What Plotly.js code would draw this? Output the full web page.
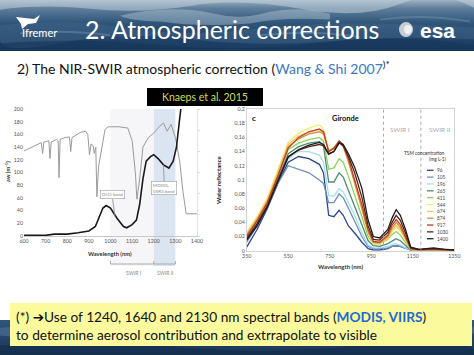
<!DOCTYPE html>
<html>
<head>
<meta charset="utf-8">
<script src="https://cdn.plot.ly/plotly-3.0.1.min.js"></script>
<style>html,body{margin:0;padding:0;background:#fff;}#chart{width:474px;height:355px;}</style>
</head>
<body>
<div id="chart"></div>
<script>
// ---------- Left panel (Knaeps et al. 2015): absorption aw and transmittance ----------
const leftGrayWl = [600, 640, 680, 686, 692, 715, 720, 726, 750, 758, 762, 767, 790, 810, 816, 822, 860, 885, 895, 903, 910, 920, 925, 932, 937, 945, 960, 975, 990, 1040, 1080, 1100, 1115, 1122, 1135, 1150, 1175, 1200, 1225, 1245, 1262, 1280, 1300, 1320, 1335, 1350, 1400];
const leftGrayVal = [134, 140, 147, 130, 148, 150, 122, 148, 152, 150, 92, 152, 155, 156, 133, 155, 163, 165, 160, 128, 145, 142, 130, 140, 62, 110, 140, 168, 172, 172, 170, 150, 100, 58, 90, 140, 155, 162, 172, 178, 165, 176, 155, 118, 70, 35, 35];
const leftAwWl = [600, 700, 740, 800, 850, 900, 930, 950, 965, 980, 1000, 1030, 1060, 1075, 1100, 1120, 1135, 1150, 1165, 1185, 1200, 1220, 1245, 1270, 1290, 1305, 1315, 1325, 1335];
const leftAwVal = [1, 1, 3, 3, 5, 8, 15, 30, 44, 48, 44, 28, 15, 13, 18, 25, 50, 90, 118, 125, 128, 122, 112, 107, 118, 140, 165, 195, 230];
const leftXTicks = [600, 700, 800, 900, 1000, 1100, 1200, 1300, 1400];
const swirGrey = [1000, 1200];
const swirBlue = [1200, 1300];

// ---------- Right panel (Gironde): water reflectance per TSM concentration ----------
const rightWl = [350, 400, 450, 500, 550, 600, 650, 700, 720, 745, 770, 795, 815, 840, 870, 905, 935, 960, 990, 1030, 1050, 1070, 1090, 1115, 1140, 1180, 1250, 1300, 1350];
const tsmLabels = ["96", "105", "196", "265", "411", "544", "674", "874", "917", "1030", "1400"];
const r96   = [.005,.030,.060,.095,.125,.133,.130,.122,.110,.050,.048,.057,.050,.035,.025,.012,.003,.001,.001,.003,.006,.007,.006,.003,.001,.000,.000,.000,.000];
const r105  = [.012,.035,.062,.095,.120,.115,.110,.100,.095,.068,.068,.080,.075,.060,.042,.020,.006,.003,.003,.004,.006,.007,.006,.003,.001,.000,.000,.000,.000];
const r196  = [.018,.040,.065,.100,.130,.140,.140,.135,.125,.078,.077,.088,.083,.068,.050,.025,.008,.004,.004,.006,.009,.010,.008,.004,.001,.000,.001,.000,.000];
const r265  = [.015,.038,.063,.100,.137,.147,.152,.154,.148,.097,.097,.110,.104,.085,.063,.035,.014,.007,.006,.010,.014,.017,.014,.007,.001,.001,.001,.000,.000];
const r411  = [.020,.042,.068,.105,.143,.152,.157,.160,.155,.115,.117,.130,.125,.105,.080,.048,.020,.010,.009,.016,.023,.027,.022,.012,.002,.001,.001,.001,.000];
const r544  = [.026,.048,.075,.113,.153,.166,.173,.178,.172,.142,.146,.155,.149,.127,.097,.060,.025,.010,.009,.017,.027,.033,.028,.015,.002,.001,.002,.001,.001];
const r674  = [.024,.046,.072,.110,.150,.162,.168,.171,.166,.141,.145,.154,.148,.127,.097,.061,.026,.011,.010,.018,.029,.036,.030,.016,.002,.001,.002,.001,.001];
const r874  = [.022,.044,.070,.107,.147,.158,.165,.168,.165,.140,.144,.153,.147,.126,.096,.060,.027,.012,.011,.020,.032,.040,.033,.018,.003,.001,.002,.001,.001];
const r917  = [.020,.042,.068,.105,.145,.160,.168,.172,.168,.140,.145,.155,.150,.130,.100,.065,.030,.013,.012,.022,.036,.044,.037,.020,.003,.001,.002,.001,.001];
const r1030 = [.017,.038,.064,.100,.133,.142,.147,.150,.148,.136,.140,.153,.148,.133,.110,.075,.035,.016,.015,.026,.040,.050,.043,.025,.004,.002,.003,.002,.001];
const r1400 = [.015,.035,.062,.098,.132,.143,.149,.153,.150,.137,.140,.152,.150,.137,.118,.088,.043,.020,.018,.030,.046,.058,.050,.030,.005,.002,.004,.002,.001];
const tsmSeries = [r96, r105, r196, r265, r411, r544, r674, r874, r917, r1030, r1400];
const tsmColors = ["#2d4590", "#6d8fc0", "#a6e0ee", "#4f8a74", "#8bd35a", "#f4ec6c", "#f5c662", "#e08b3b", "#b8402a", "#5a2212", "#1c1c24"];
const rightXTicks = [350, 550, 750, 950, 1150, 1350];
const swirEdges = [1009, 1189];

// ---------- helpers (pixel -> paper) ----------
const W = 474, H = 355;
const px = x => x / W;
const py = y => 1 - y / H;
const FONT = "Lato, 'Open Sans', sans-serif";

// ---------- ocean backgrounds ----------
function svgURI(s) { return "data:image/svg+xml;charset=utf-8," + encodeURIComponent(s); }
const headerSvg = `<svg xmlns="http://www.w3.org/2000/svg" width="474" height="52" viewBox="0 0 474 52">
<defs><linearGradient id="g" x1="0" y1="0" x2="0" y2="1">
<stop offset="0" stop-color="#9fb2c3"/><stop offset="0.16" stop-color="#5f7f9c"/>
<stop offset="0.45" stop-color="#2f5579"/><stop offset="0.8" stop-color="#1f4167"/><stop offset="1" stop-color="#1b3b61"/></linearGradient></defs>
<rect width="474" height="52" fill="url(#g)"/>
<path d="M0 10 Q40 4 90 9 T190 6 T300 9 T400 4 T474 8 L474 0 L0 0 Z" fill="#c9d6e0" opacity="0.5"/>
<path d="M120 16 Q170 4 215 14 Q240 21 270 12 Q300 6 330 14 L330 20 Q280 17 250 24 Q200 28 160 22 Q130 21 120 16 Z" fill="#d5e1ea" opacity="0.35"/>
<path d="M0 26 Q60 18 120 28 T250 30 T380 24 T474 28 L474 40 Q400 36 330 42 T190 40 T60 44 T0 40 Z" fill="#44698c" opacity="0.45"/>
<path d="M0 44 Q80 38 160 46 T320 44 T474 46 L474 52 L0 52 Z" fill="#163558" opacity="0.6"/>
<path d="M20 34 Q70 30 110 36 M260 36 Q310 30 360 38 M380 20 Q420 14 470 22" stroke="#6f8dab" stroke-width="2" fill="none" opacity="0.5"/>
</svg>`;
const footerSvg = `<svg xmlns="http://www.w3.org/2000/svg" width="474" height="36" viewBox="0 0 474 36">
<defs><linearGradient id="f" x1="0" y1="0" x2="0" y2="1">
<stop offset="0" stop-color="#2f557b"/><stop offset="1" stop-color="#1a3556"/></linearGradient></defs>
<rect width="474" height="36" fill="url(#f)"/>
<path d="M0 8 Q60 2 130 10 T270 8 T400 12 T474 6 L474 14 Q400 18 320 14 T160 18 T0 16 Z" fill="#5e7fa0" opacity="0.45"/>
<path d="M0 26 Q90 20 180 28 T360 26 T474 30 L474 36 L0 36 Z" fill="#132c4a" opacity="0.6"/>
</svg>`;

// ---------- traces ----------
const traces = [];
traces.push({x: leftGrayWl, y: leftGrayVal, xaxis: 'x', yaxis: 'y', mode: 'lines',
  line: {color: '#9a9a9a', width: 1}, hoverinfo: 'skip', showlegend: false});
traces.push({x: leftAwWl, y: leftAwVal, xaxis: 'x', yaxis: 'y', mode: 'lines',
  line: {color: '#1a1a1a', width: 1.6}, hoverinfo: 'skip', showlegend: false, cliponaxis: true});
tsmSeries.forEach((s, i) => {
  traces.push({x: rightWl, y: s, xaxis: 'x2', yaxis: 'y2', mode: 'lines', name: tsmLabels[i],
    line: {color: tsmColors[i], width: 1.3}, hoverinfo: 'skip', showlegend: false});
});

// ---------- shapes ----------
const shapes = [
  {type: 'rect', xref: 'x', yref: 'paper', x0: swirGrey[0], x1: swirGrey[1], y0: py(266), y1: py(109), fillcolor: '#f6f6f8', line: {width: 0}, layer: 'below'},
  {type: 'rect', xref: 'x', yref: 'paper', x0: swirBlue[0], x1: swirBlue[1], y0: py(266), y1: py(109), fillcolor: '#dbe5f2', line: {width: 0}, layer: 'below'},
  {type: 'line', xref: 'x', yref: 'paper', x0: swirGrey[0], x1: swirBlue[1], y0: py(264), y1: py(264), line: {color: '#999', width: 0.8}},
  {type: 'line', xref: 'x', yref: 'paper', x0: swirGrey[0], x1: swirGrey[0], y0: py(264), y1: py(261), line: {color: '#999', width: 0.8}},
  {type: 'line', xref: 'x', yref: 'paper', x0: swirBlue[0], x1: swirBlue[0], y0: py(264), y1: py(261), line: {color: '#999', width: 0.8}},
  {type: 'line', xref: 'x', yref: 'paper', x0: swirBlue[1], x1: swirBlue[1], y0: py(264), y1: py(261), line: {color: '#999', width: 0.8}},
  {type: 'rect', xref: 'paper', yref: 'paper', x0: px(147), x1: px(263), y0: py(106), y1: py(88), fillcolor: '#000', line: {width: 0}},
  {type: 'rect', xref: 'paper', yref: 'paper', x0: px(10), x1: px(472), y0: py(346), y1: py(303), fillcolor: '#fbfb9e', line: {width: 0}},
  {type: 'path', xref: 'paper', yref: 'paper', path: '', fillcolor: '#fff', line: {width: 0}},
  {type: 'circle', xref: 'paper', yref: 'paper', x0: px(399), x1: px(413), y0: py(37), y1: py(22), fillcolor: '#c9cdd2', line: {width: 0}},
  {type: 'circle', xref: 'paper', yref: 'paper', x0: px(404), x1: px(412), y0: py(34), y1: py(25), fillcolor: '#eef0f2', line: {width: 0}}
];
const birdPts = [[16,17],[34,19],[40,15],[36,23],[28,24],[22,29],[21,24],[16,17]];
shapes[8].path = 'M ' + birdPts.map(p => px(p[0]) + ',' + py(p[1])).join(' L ') + ' Z';
swirEdges.forEach(xv => shapes.push({type: 'line', xref: 'x2', yref: 'y2', x0: xv, x1: xv, y0: 0, y1: 0.2,
  line: {color: '#a0a0a0', width: 0.9, dash: 'dot'}}));
const legTop = 170.3, legStep = 6.84;
tsmLabels.forEach((lab, i) => {
  const yy = py(legTop + i * legStep);
  shapes.push({type: 'line', xref: 'paper', yref: 'paper', x0: px(427), x1: px(433.5), y0: yy, y1: yy,
    line: {color: tsmColors[i], width: 1.3}});
});

// ---------- annotations ----------
const A = (x, y, text, opts) => Object.assign({xref: 'paper', yref: 'paper', x: px(x), y: py(y), text: text,
  showarrow: false, xanchor: 'center', yanchor: 'middle', font: {family: FONT, size: 6, color: '#333'}}, opts || {});
const annotations = [
  A(232, 29, '2. Atmospheric corrections', {font: {family: FONT, size: 25, color: '#ffffff'}}),
  A(39, 33, 'Ifremer', {font: {family: FONT, size: 11, color: '#ffffff'}}),
  A(437, 30, '<b>esa</b>', {font: {family: "'Liberation Sans', Arial, sans-serif", size: 21, color: '#ffffff'}}),
  A(15, 68, '2) The NIR-SWIR atmospheric correction (<span style="color:#3a78c2">Wang &amp; Shi 2007</span><sup>)*</sup>',
    {xanchor: 'left', font: {family: FONT, size: 14, color: '#111'}}),
  A(205, 97, 'Knaeps et al. 2015', {font: {family: FONT, size: 10.5, color: '#d4dc4c'}}),
  A(14, 325.5, '(*) <span style="font-family:DejaVu Sans">➔</span>Use of 1240, 1640 and 2130 nm spectral bands (<b><span style="color:#1f6ad0">MODIS, VIIRS</span></b>)<br>to determine aerosol contribution and extrrapolate to visible',
    {xanchor: 'left', align: 'left', font: {family: FONT, size: 13.7, color: '#111'}}),
  A(110, 253, '<b>Wavelength (nm)</b>', {font: {family: FONT, size: 5.8, color: '#333'}}),
  A(7, 172, '<b>aw (m<sup>-1</sup>)</b>', {textangle: -90, font: {family: FONT, size: 5.8, color: '#333'}}),
  A(133, 273, 'SWIR I', {font: {family: FONT, size: 5, color: '#888'}}),
  A(165, 273, 'SWIR II', {font: {family: FONT, size: 5, color: '#888'}}),
  {xref: 'x', yref: 'y', x: 1021, y: 30, text: 'OLCI band', showarrow: true, arrowhead: 0, arrowwidth: 0.8, arrowcolor: '#8a8a8a',
    ax: -3, ay: -22, bgcolor: '#fff', bordercolor: '#9a9a9a', borderwidth: 0.6, borderpad: 1.2, font: {family: FONT, size: 4.5, color: '#888'}},
  {xref: 'x', yref: 'y', x: 1245, y: 112, text: 'MODIS,<br>VIIRS band', align: 'left', showarrow: true, arrowhead: 0, arrowwidth: 0.8, arrowcolor: '#8a8a8a',
    ax: 1, ay: 23, bgcolor: '#fff', bordercolor: '#9a9a9a', borderwidth: 0.6, borderpad: 1.2, font: {family: FONT, size: 4.5, color: '#888'}},
  A(218, 180, '<b>Water reflectance</b>', {textangle: -90, font: {family: FONT, size: 6, color: '#222'}}),
  A(340, 266, '<b>Wavelength (nm)</b>', {font: {family: FONT, size: 6, color: '#333'}}),
  A(254, 118, '<b>c</b>', {font: {family: FONT, size: 8, color: '#111'}}),
  A(345, 118, '<b>Gironde</b>', {font: {family: FONT, size: 7.5, color: '#111'}}),
  A(400, 130, 'SWIR I', {font: {family: FONT, size: 6.5, color: '#aaa'}}),
  A(440, 129, 'SWIR II', {font: {family: FONT, size: 6.5, color: '#aaa'}}),
  A(424, 153, 'TSM concentration', {font: {family: FONT, size: 4.8, color: '#333'}}),
  A(438, 159, '(mg L-1)', {font: {family: FONT, size: 4.8, color: '#333'}})
];
tsmLabels.forEach((lab, i) => annotations.push(A(434.5, legTop + i * legStep, lab,
  {xanchor: 'left', font: {family: FONT, size: 4.8, color: '#444'}})));

// ---------- layout ----------
const layout = {
  width: W, height: H, margin: {l: 0, r: 0, t: 0, b: 0},
  paper_bgcolor: '#ffffff', plot_bgcolor: 'rgba(0,0,0,0)',
  separators: ',.', showlegend: false,
  font: {family: FONT, size: 5.5, color: '#444'},
  xaxis: {domain: [px(24), px(197)], range: [600, 1400], tickvals: leftXTicks, anchor: 'y',
    showgrid: false, zeroline: false, showline: true, linecolor: '#bdbdbd', linewidth: 0.8, ticks: '',
    tickfont: {family: FONT, size: 5.3, color: '#555'}},
  yaxis: {domain: [py(236), py(109)], range: [0, 200], dtick: 20, anchor: 'x',
    showgrid: false, zeroline: false, showline: false, ticks: '',
    tickfont: {family: FONT, size: 5.3, color: '#555'}},
  yaxis3: {overlaying: 'y', side: 'right', anchor: 'x', range: [0, 6], dtick: 1, showgrid: false, zeroline: false,
    showline: true, linecolor: '#dcdcdc', linewidth: 0.8, ticks: 'outside', ticklen: 2, tickcolor: '#dcdcdc', showticklabels: false},
  xaxis2: {domain: [px(246.7), px(454.3)], range: [350, 1350], tickvals: rightXTicks, anchor: 'y2',
    showgrid: false, zeroline: false, showline: true, mirror: true, linecolor: '#c8c8c8', linewidth: 0.8, ticks: '',
    tickfont: {family: FONT, size: 5.3, color: '#555'}},
  yaxis2: {domain: [py(250.7), py(109.1)], range: [0, 0.2], dtick: 0.02, anchor: 'x2',
    showgrid: false, zeroline: false, showline: true, mirror: true, linecolor: '#c8c8c8', linewidth: 0.8, ticks: '',
    tickfont: {family: FONT, size: 5.3, color: '#555'}},
  shapes: shapes,
  annotations: annotations,
  images: [
    {source: svgURI(headerSvg), xref: 'paper', yref: 'paper', x: 0, y: 1, sizex: 1, sizey: 51 / H,
      xanchor: 'left', yanchor: 'top', sizing: 'stretch', layer: 'below'},
    {source: svgURI(footerSvg), xref: 'paper', yref: 'paper', x: 0, y: py(320), sizex: 1, sizey: 35 / H,
      xanchor: 'left', yanchor: 'top', sizing: 'stretch', layer: 'below'}
  ]
};
traces.push({x: [], y: [], xaxis: 'x', yaxis: 'y3', mode: 'lines', hoverinfo: 'skip', showlegend: false});

Plotly.newPlot('chart', traces, layout, {staticPlot: true, displayModeBar: false});
</script>
</body>
</html>
